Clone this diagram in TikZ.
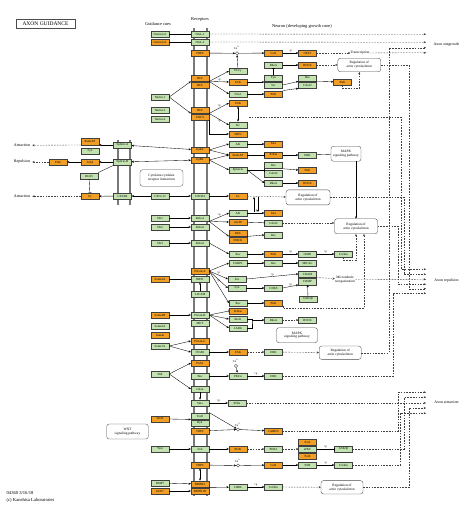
\documentclass[tikz,border=0pt]{standalone}
\usepackage{fontspec}
\setmainfont{Liberation Serif}
\usetikzlibrary{arrows.meta}
\definecolor{kgreen}{RGB}{194,227,176}
\definecolor{korange}{RGB}{242,158,36}
\definecolor{kmem}{RGB}{120,120,120}
\newcommand{\boxfont}{\fontsize{3.1}{3.4}\selectfont}
\newcommand{\pathfont}{\fontsize{3.5}{3.9}\selectfont}
\newcommand{\headfont}{\fontsize{4.4}{5}\selectfont}
\begin{document}
\begin{tikzpicture}[x=1pt,y=-1pt,>={Stealth[length=2.3pt,width=2.1pt]},line width=.35pt]
\tikzstyle{gene} = [rectangle, draw=black!75, fill=kgreen, minimum width=18pt, minimum height=6.5pt, inner sep=0pt, font=\boxfont, text centered]
\tikzstyle{hit} = [gene, fill=korange]
\tikzstyle{roundrect} = [rectangle, rounded corners=2.5pt, draw=black!70, fill=white, inner sep=0pt, align=center, font=\pathfont]
\tikzstyle{cpd} = [circle, draw=black!75, fill=white, minimum size=3.4pt, inner sep=0pt]
\tikzstyle{dline} = [dash pattern=on 1.6pt off 1.2pt, draw=black!75]
\tikzstyle{inh} = [-{Bar[width=3pt]}]
\tikzstyle{plab} = [font=\fontsize{3}{3}\selectfont, inner sep=.5pt]
\tikzstyle{word} = [font=\pathfont, inner sep=0pt, align=center]
\useasboundingbox (0,0) rectangle (474,513);
\fill [white] (0,0) rectangle (474,513);
% membranes
\draw [kmem, line width=1.3pt] (194,28) -- (194,496);
\draw [kmem, line width=1.3pt] (207,28) -- (207,496);
\draw [kmem, line width=1.3pt] (118,140) -- (118,205);
\draw [kmem, line width=1.3pt] (130,140) -- (130,205);
% titles
\node (title)[draw=black!70, line width=.6pt, minimum width=59pt, minimum height=9.5pt, inner sep=0pt, font=\fontsize{5.5}{6}\selectfont] at (45.5,24) {AXON GUIDANCE};
\node (hcue)[word, font=\headfont] at (158,24) {Guidance cues};
\node (hrec)[word, font=\headfont] at (200,20) {Receptors};
\node (hneu)[word, font=\headfont] at (302,26.5) {Neuron (developing growth cone)};
\node (foot1)[word, anchor=west, font=\fontsize{4.6}{5}\selectfont] at (6.5,493.3) {04360 3/16/18};
\node (foot2)[word, anchor=west, font=\fontsize{4.6}{5}\selectfont] at (6.5,500.8) {(c) Kanehisa Laboratories};
% guidance cues
\node (ntg1)[gene] at (160,34) {Netrin-G1};
\node (ntg2)[hit] at (160,42) {Netrin-G2};
\node (net1)[gene] at (160,97) {Netrin-1};
\node (net3)[gene] at (160,110) {Netrin-3};
\node (net4)[gene] at (160,119) {Netrin-4};
\node (cxcl)[gene] at (160,196) {CXCL12};
\node (slit1)[gene] at (160,218) {Slit1};
\node (slit2)[gene] at (160,227) {Slit2};
\node (slit3)[gene] at (160,243) {Slit3};
\node (sema3a)[hit] at (160,279) {Sema3A};
\node (sema4d)[hit] at (160,315) {Sema4D};
\node (sema5)[gene] at (160,326) {Sema5A};
\node (sema6)[hit] at (160,335) {Sema6};
\node (sema7a)[gene] at (160,346) {Sema7A};
\node (shh)[gene] at (160,374) {Shh};
\node (wnt5)[hit] at (160,419) {Wnt5};
\node (wnt)[gene] at (160,449) {Wnt};
\node (bmp7)[gene] at (160,483) {BMP7};
\node (gdf7)[hit] at (160,491) {GDF7};
% receptors
\node (ngl1)[gene] at (200,34) {NGL-1};
\node (ngl2)[gene] at (200,42) {NGL-2};
\node (trpc1)[hit] at (200,53) {TRPC};
\node (dcc1)[hit] at (200,78) {DCC};
\node (dcc2)[hit] at (200,85) {DCC};
\node (dcc3)[hit] at (200,110) {DCC};
\node (unc5)[hit] at (200,117) {UNC5};
\node (epha)[hit] at (200,150) {EphA};
\node (ephb)[hit] at (200,160) {EphB};
\node (cxcr)[gene] at (200,196) {CXCR4};
\node (robo1)[gene] at (200,218) {Robo1};
\node (robo2)[gene] at (200,227) {Robo2};
\node (robo3)[gene] at (200,243) {Robo3};
\node (plxa)[hit] at (200,271) {Plexin-A};
\node (nrp1)[gene] at (200,279) {NRP1};
\node (l1cam)[gene] at (200,294) {L1CAM};
\node (plxb)[gene] at (200,315) {Plexin-B};
\node (met)[gene] at (200,323) {MET};
\node (plxc)[hit] at (200,341) {Plexin-C};
\node (itgb)[gene] at (200,352) {ITGB1};
\node (ptch)[hit] at (200,363) {Ptch1};
\node (boc)[gene] at (200,376) {Boc};
\node (cdon)[gene] at (200,389) {Cdon};
\node (smo)[gene] at (200,403) {Smo};
\node (fzd1)[gene] at (200,416) {Fzd3};
\node (ryk)[gene] at (200,423) {Ryk};
\node (trpc2)[hit] at (200,431) {TRPC};
\node (fzd2)[gene] at (200,449) {Fzd};
\node (trpc3)[hit] at (200,465) {TRPC};
\node (bmpr2)[hit] at (200,484) {BMPR2};
\node (bmpr1)[hit] at (200,491) {BMPR1B};
% ephrin side
\node (efna)[gene] at (122.5,145) {Ephrin-A};
\node (efnb)[gene] at (122.5,162) {Ephrin-B};
\node (cxcrl)[gene] at (122.5,196) {CXCR4};
\node (rasgapl)[hit] at (90,141.5) {RasGAP};
\node (fynl)[gene] at (90,151) {Fyn};
\node (grb4)[hit] at (90,162) {Grb4};
\node (fakl)[hit] at (58,162) {FAK};
\node (rgs3)[gene] at (89,176) {RGS3};
\node (gil)[hit] at (90,196.3) {Gi};
\node (attr1)[word, font=\fontsize{4}{4.5}\selectfont] at (22,145.3) {Attraction};
\node (repl)[word, font=\fontsize{4}{4.5}\selectfont] at (22,162) {Repulsion};
\node (attr3)[word, font=\fontsize{4}{4.5}\selectfont] at (22,196.3) {Attraction};
% neuron, first column
\node (plcg)[gene] at (238,71) {PLCγ};
\node (fak1)[hit] at (238,82) {FAK};
\node (nck1)[gene] at (238,94) {Nck1};
\node (fak2)[hit] at (238,103) {FAK};
\node (src2)[gene] at (238,125) {Src};
\node (shp2)[hit] at (238,134) {SHP2};
\node (abl1)[gene] at (238,144) {Abl};
\node (rasgap)[hit] at (238,155) {RasGAP};
\node (ephx)[gene] at (238,170) {Ephexin};
\node (gi2)[hit] at (238,196) {Gi};
\node (abl2)[gene] at (238,213) {Abl};
\node (srgap)[hit] at (238,222) {srGAP};
\node (pak3)[hit] at (238,233) {PAK};
\node (dock)[hit] at (238,240) {DOCK};
\node (rac4)[gene] at (238,254) {Rac};
\node (farp)[gene] at (238,263) {FARP2};
\node (fes)[gene] at (237,279) {Fes};
\node (fyn2)[gene] at (237,288) {Fyn};
\node (rac5)[gene] at (238,303) {Rac};
\node (rras2)[hit] at (238,311) {R-Ras};
\node (rnd1)[gene] at (238,319) {Rnd1};
\node (larg)[gene] at (238,328) {LARG};
\node (fak3)[hit] at (238,352) {FAK};
\node (pkc)[gene] at (238,376) {PKCα};
\node (sfk)[gene] at (237,403) {SFKs};
\node (pi3k)[hit] at (238,449) {PI3K};
\node (limk2)[gene] at (238,487) {LIMK};
% calcium
\node (ca1)[cpd] at (237,53.3) {};
\node (ca1t)[plab] at (237,48.3) {Ca\textsuperscript{2+}};
\node (ca2)[cpd] at (236,366) {};
\node (ca2t)[plab] at (236,360.5) {Ca\textsuperscript{2+}};
\node (ca3)[cpd] at (238,429.5) {};
\node (ca3t)[plab] at (238,424.5) {Ca\textsuperscript{2+}};
\node (ca4)[cpd] at (238,465.5) {};
\node (ca4t)[plab] at (238,460.5) {Ca\textsuperscript{2+}};
% neuron, second column
\node (can1)[hit] at (273.5,53) {CaN};
\node (rhoa1)[gene] at (273.5,65) {RhoA};
\node (fyn1)[gene] at (273.5,78) {Fyn};
\node (src1)[gene] at (273.5,85) {Src};
\node (pak0)[hit] at (273.5,94) {PAK};
\node (ena1)[hit] at (273.5,144) {Ena};
\node (rras1)[hit] at (273.5,155) {R-Ras};
\node (rac2)[gene] at (273.5,165.3) {Rac};
\node (cdc2)[gene] at (273.5,173.7) {Cdc42};
\node (rhob)[gene] at (273.5,183) {RhoA};
\node (ena2)[hit] at (273.5,213) {Ena};
\node (cdc3)[gene] at (273.5,223) {Cdc42};
\node (rac3)[gene] at (273.5,235) {Rac};
\node (pak4)[hit] at (273.5,254) {PAK};
\node (rac6)[gene] at (273.5,263) {Rac};
\node (cdk5)[gene] at (273.5,288) {CDK5};
\node (pak5)[hit] at (273.5,303) {PAK};
\node (rhoc)[gene] at (273.5,320) {RhoA};
\node (erk2)[gene] at (273.5,352) {ERK};
\node (erk3)[gene] at (273.5,376) {ERK};
\node (camk)[hit] at (273.5,431) {CaMKII};
\node (pdk1)[gene] at (273.5,449) {PDK1};
\node (can2)[hit] at (273.5,465) {CaN};
\node (cof3)[gene] at (273.5,487) {Cofilin};
% neuron, third column
\node (nfat1)[hit] at (307.5,53) {NFAT};
\node (rock1)[hit] at (307.5,65) {ROCK};
\node (rac1)[gene] at (307.5,78) {Rac};
\node (cdc1)[gene] at (307.5,85) {Cdc42};
\node (erk1)[gene] at (307.5,155) {ERK};
\node (pak2)[hit] at (307.5,170) {PAK};
\node (rock2)[hit] at (307.5,183) {ROCK};
\node (limk1)[gene] at (307.5,254) {LIMK};
\node (pak6)[gene] at (307.5,263) {MICAL};
\node (cram)[gene] at (307.5,274) {CRAM};
\node (crmp)[gene] at (307.5,281.5) {CRMP};
\node (gsk1)[gene] at (308,299) {GSK3β};
\node (rock3)[gene] at (307.5,320) {ROCK};
\node (par3)[hit] at (307.5,442) {Par3};
\node (apkc)[gene] at (307.5,449) {aPKC};
\node (par6)[hit] at (307.5,456) {Par6};
\node (ssh)[gene] at (307.5,465) {SSH};
% neuron, fourth column
\node (pak1)[hit] at (342.5,82) {PAK};
\node (cof1)[gene] at (343.5,254) {Cofilin};
\node (gsk2)[gene] at (343.5,449) {GSK3β};
\node (cof2)[gene] at (343.5,465) {Cofilin};
% maps and processes
\node (reg1)[roundrect, minimum width=43pt, minimum height=13.4pt] at (359.3,65) {Regulation of\\actin cytoskeleton};
\node (mapk1)[roundrect, minimum width=30pt, minimum height=15pt] at (346,153.8) {MAPK\\signaling pathway};
\node (reg2)[roundrect, minimum width=44pt, minimum height=15pt] at (308,197.4) {Regulation of\\actin cytoskeleton};
\node (reg3)[roundrect, minimum width=43pt, minimum height=15pt] at (356,226.3) {Regulation of\\actin cytoskeleton};
\node (cyto)[roundrect, minimum width=43pt, minimum height=16.5pt] at (161.5,178) {Cytokine-cytokine\\receptor interaction};
\node (mapk2)[roundrect, minimum width=41pt, minimum height=15pt] at (297,335.2) {MAPK\\signaling pathway};
\node (reg4)[roundrect, minimum width=42pt, minimum height=13.3pt] at (340.2,352.7) {Regulation of\\actin cytoskeleton};
\node (wntp)[roundrect, minimum width=41.6pt, minimum height=15pt] at (127.5,431.5) {WNT\\signaling pathway};
\node (reg5)[roundrect, minimum width=42pt, minimum height=13.3pt] at (342,487.3) {Regulation of\\actin cytoskeleton};
\node (trans)[word] at (360,53) {Transcription};
\node (micro)[word] at (345,279.5) {Microtubule\\reorganization};
\node (outg)[word, font=\fontsize{3.9}{4.4}\selectfont] at (446.5,44.5) {Axon outgrowth};
\node (rept)[word, font=\fontsize{3.9}{4.4}\selectfont] at (446.5,281) {Axon repulsion};
\node (attt)[word, font=\fontsize{3.9}{4.4}\selectfont] at (446.5,402.5) {Axon attraction};
% end points of the outcome arrows
\coordinate (out1) at (426,34.3);
\coordinate (out2) at (426,42.3);
\coordinate (out3) at (426,47.7);
\coordinate (out4) at (426,52.7);
\coordinate (rep1) at (426,269.3);
\coordinate (rep2) at (426,274.3);
\coordinate (rep3) at (426,279.3);
\coordinate (rep4) at (426,284.3);
\coordinate (rep5) at (426,288.7);
\coordinate (rep6) at (426,293.3);
\coordinate (att1) at (426,392.3);
\coordinate (att2) at (426,397.3);
\coordinate (att3) at (426,403);
\coordinate (att4) at (426,408);
\coordinate (att5) at (426,413.3);
% netrin
\draw (ntg1) -- (ngl1);
\draw (ntg2) -- (ngl2);
\draw [dline,->] (ngl1) -- (out1);
\draw [dline,->] (ngl2) -- (out2);
\draw [->] (trpc1) -- (ca1);
\draw [->] (ca1) -- (can1);
\draw [->] (can1) -- node[plab, above] (p1) {-p} (nfat1);
\draw [dline,->] (nfat1) -- (trans);
\draw [dline,->] (trans) -- (out4);
\draw [->] (plcg) -- (ca1);
\draw [->] (net1.east) -- (dcc1.south west);
\draw [->] (net1.east) -- (dcc3.south west);
\draw [->] (dcc1.south east) -- (plcg.west);
\draw [->] (dcc1.south east) -- node[plab, above] (p2) {+p} (fak1.west);
\draw [->] (dcc1.south east) -- (nck1.west);
\draw [->] (fak1) -- (fak1 -| fyn1.west);
\draw [inh] (fyn1) -- (rhoa1);
\draw [->] (src1.east) -- (rac1.south west);
\draw [->] (nck1) -- (pak0);
\draw [->] (pak0.north east) -- (cdc1.south west);
\draw [->] (rhoa1) -- (rock1);
\draw [dline,->] (rock1) -- (reg1);
\draw [->] (rac1.south east) -- (pak1);
\draw [dline,->] (pak1.south) -- ++(0,3) -| (reg1.south);
\draw [dline,->] (reg1.east) -| (409,288.7) -- (rep5);
\draw [->] (dcc3.south east) -- node[plab, above] (p3) {+p} (fak2.west);
\draw [->] (dcc3.south east) -- node[plab, below] (p4) {+p} (src2.west);
\draw [<->] (fak2) -- (src2);
\draw [->] (unc5.south east) |- (shp2.west);
\coordinate (unc5out) at (249,117);
\draw [dline,->] (unc5out) -| (401,269.3) -- (rep1);
% ephrins and CXCL12
\draw [<->] (efna) -- (epha);
\draw [<->] (efnb) -- (ephb);
\draw [->] (efna) -- (efna -| rasgapl.east);
\draw [dline,->, shorten >=2pt] (efna -| rasgapl.west) -- (attr1);
\draw [->] (efnb) -- (grb4);
\draw [->] (grb4) -- (fakl);
\draw [dline,->, shorten >=2pt] (fakl) -- (repl);
\draw (efnb.south west) -- (rgs3.north east);
\draw [inh] (rgs3) -- (gil);
\draw [->] (cxcrl) -- (gil);
\draw [dline,->, shorten >=2pt] (gil) -- (attr3);
\draw [->] (cxcl) -- (cxcrl);
\draw [->] (cxcl) -- (cxcr);
\draw [->] (epha.east) -- (abl1.west);
\draw [->] (epha.east) -- (rasgap.west);
\draw [->] (ephb.east) -- (rasgap.west);
\draw [->] (ephb.east) -- (ephx.west);
\draw [->] (abl1) -- (ena1);
\draw [inh] (rasgap) -- (rras1);
\draw [->] (rras1) -- (erk1);
\draw (erk1) -- (mapk1);
\draw [->] ([xshift=10pt]mapk1.south) -- (reg3.north);
\draw [inh] (ephx.east) -- (ephx.east -| rac2.west);
\draw [->] (ephx.east) -- (rhob.west);
\draw [->] (rhob) -- (rock2);
\draw [->] (rac2.south east) -- (pak2.west);
\draw [->] (cxcr) -- (gi2);
\draw [dline,->] (gi2) -- (reg2);
\draw [dline,->] (reg2.east) -| (404,274.3) -- (rep2);
% slit and robo
\draw [->] (slit1) -- (robo1);
\draw [->] (slit2) -- (robo2);
\draw [->] (slit3) -- (robo3);
\draw [->] (robo1.south east) -- node[plab, above] (p5) {+p} (abl2.west);
\draw [->] (robo1.south east) -- (srgap.west);
\draw [->] (robo1.south east) -- (pak3.south west);
\draw [->] (robo3.east) -- (rac4.west);
\draw [->] (abl2) -- node[plab, above] (p6) {+p} (ena2);
\draw [inh] (srgap) -- (cdc3);
\draw [->] (pak3.south east) -- (rac3.west);
\coordinate (gq1) at (254,197);
\coordinate (gq2) at (254,212);
\coordinate (gq3) at (258,197);
\coordinate (gq4) at (258,212);
\draw [->] (gq2) -- (gq1);
\draw [->] (gq3) -- (gq4);
\draw [dline,->] (cdc3.east) -- (cdc3.east -| reg3.west);
\draw [dline,->] (reg3.east) -| (398,284.3) -- (rep4);
\draw [->] (rac4) -- (pak4);
\draw [->] (pak4) -- node[plab, above] (p7) {+p} (limk1);
\draw [->] (limk1) -- node[plab, above] (p8) {+p} (cof1);
\draw [dline,->] (cof1.south) -- ++(0,3) -| (reg3.south);
% semaphorins
\draw (sema3a) -- (nrp1);
\draw [->] (l1cam) -- (nrp1);
\draw [->] (plxa.east) -- (farp.west);
\draw [->] (plxa.east) -- node[plab, above] (p9) {+p} (fes.west);
\draw [->] (plxa.east) -- node[plab, below] (p10) {+p} (fyn2.west);
\draw [->] (plxa.east) -- (rac5.west);
\draw [->] (farp) -- (rac6);
\draw [->] (rac6) -- (pak6);
\draw [->] (fes.east) -- node[plab, above] (p11) {+p} (cram.west);
\draw [->] (fyn2) -- (cdk5);
\draw [->] (cdk5.east) -- node[plab, above] (p12) {+p} (crmp.south west);
\draw [->] (gsk1) -- (crmp);
\draw [dline,->] (cram.south east) -- (micro);
\draw [dline,->] (micro) -- (rep3);
\draw [->] (rac5) -- (pak5);
\draw [dline,->] (pak5.south east) -- ++(0,1.8) -| ([xshift=8pt]reg3.south);
\draw [->] (sema4d) -- (plxb);
\draw [inh] (plxb.east) -- (rras2.west);
\draw [->] (plxb.east) -- (rnd1.west);
\draw [->] (plxb.east) -- (larg.west);
\coordinate (brk) at (252,320);
\draw (rnd1.east) -| (brk) |- (larg.east);
\draw [->] (brk) -- (rhoc);
\draw [dline,->] (rhoc) -- (rock3);
\draw [->] (sema7a.east) -- (plxc.west);
\draw [->] (sema7a.east) -- (itgb.west);
\draw [->] (itgb) -- (fak3);
\draw [dline,->] (fak3) -- (erk2);
\draw [dline,->] (erk2) -- (reg4);
\draw [dline,->] (reg4.east) -| (389,47.7) -- (out3);
% shh
\draw [->] (shh.east) -- (ptch.west);
\draw [->] (shh.east) -- (cdon.west);
\draw [->] (cdon) -- (smo);
\draw [->] (smo) -- node[plab, above] (p13) {+p} (sfk);
\draw [dline,->] (sfk) -- (att3);
\draw [->] (boc) -- (pkc);
\draw [->] (ca2) -- (pkc);
\draw [->] (pkc) -- node[plab, above] (p14) {+p} (erk3);
\draw [dline,->] (erk3.east) -| (393,293.3) -- (rep6);
% wnt
\draw [->] (wnt5.east) -- (fzd1.south west);
\draw [->] (fzd1.north east) -- (ca3);
\draw [->] (trpc2) -- (ca3);
\draw [->] (ca3) -- (camk);
\draw [dline,->] (camk.east) -| (398,392.3) -- (att1);
\draw [->] (wnt) -- (fzd2);
\draw [->] (fzd2) -- (pi3k);
\draw [dline,->] (pi3k) -- (pdk1);
\draw [dline,->] (pdk1) -- (apkc);
\draw [inh] (apkc) -- node[plab, above] (p15) {+p} (gsk2);
\draw [dline,->] (gsk2.east) -| (404,397.3) -- (att2);
\draw [->] (trpc3) -- (ca4);
\draw [->] (ca4) -- (can2);
\draw [->] (can2) -- (ssh);
\draw [->] (ssh) -- node[plab, above] (p16) {-p} (cof2);
\draw [dline,->] (cof2.east) -| (400.5,413.3) -- (att5);
\draw [<->] (trpc3) -- (bmpr2);
% bmp
\draw [->] (bmp7) -- (bmpr2);
\draw [->] (gdf7) -- (bmpr1);
\draw [->] (bmpr2.south east) -- (limk2);
\draw [->] (limk2) -- node[plab, above] (p17) {+p} (cof3);
\draw [dline,->] (cof3) -- (reg5);
\draw [dline,->] (reg5.east) -| (409,408) -- (att4);
\end{tikzpicture}
\end{document}
